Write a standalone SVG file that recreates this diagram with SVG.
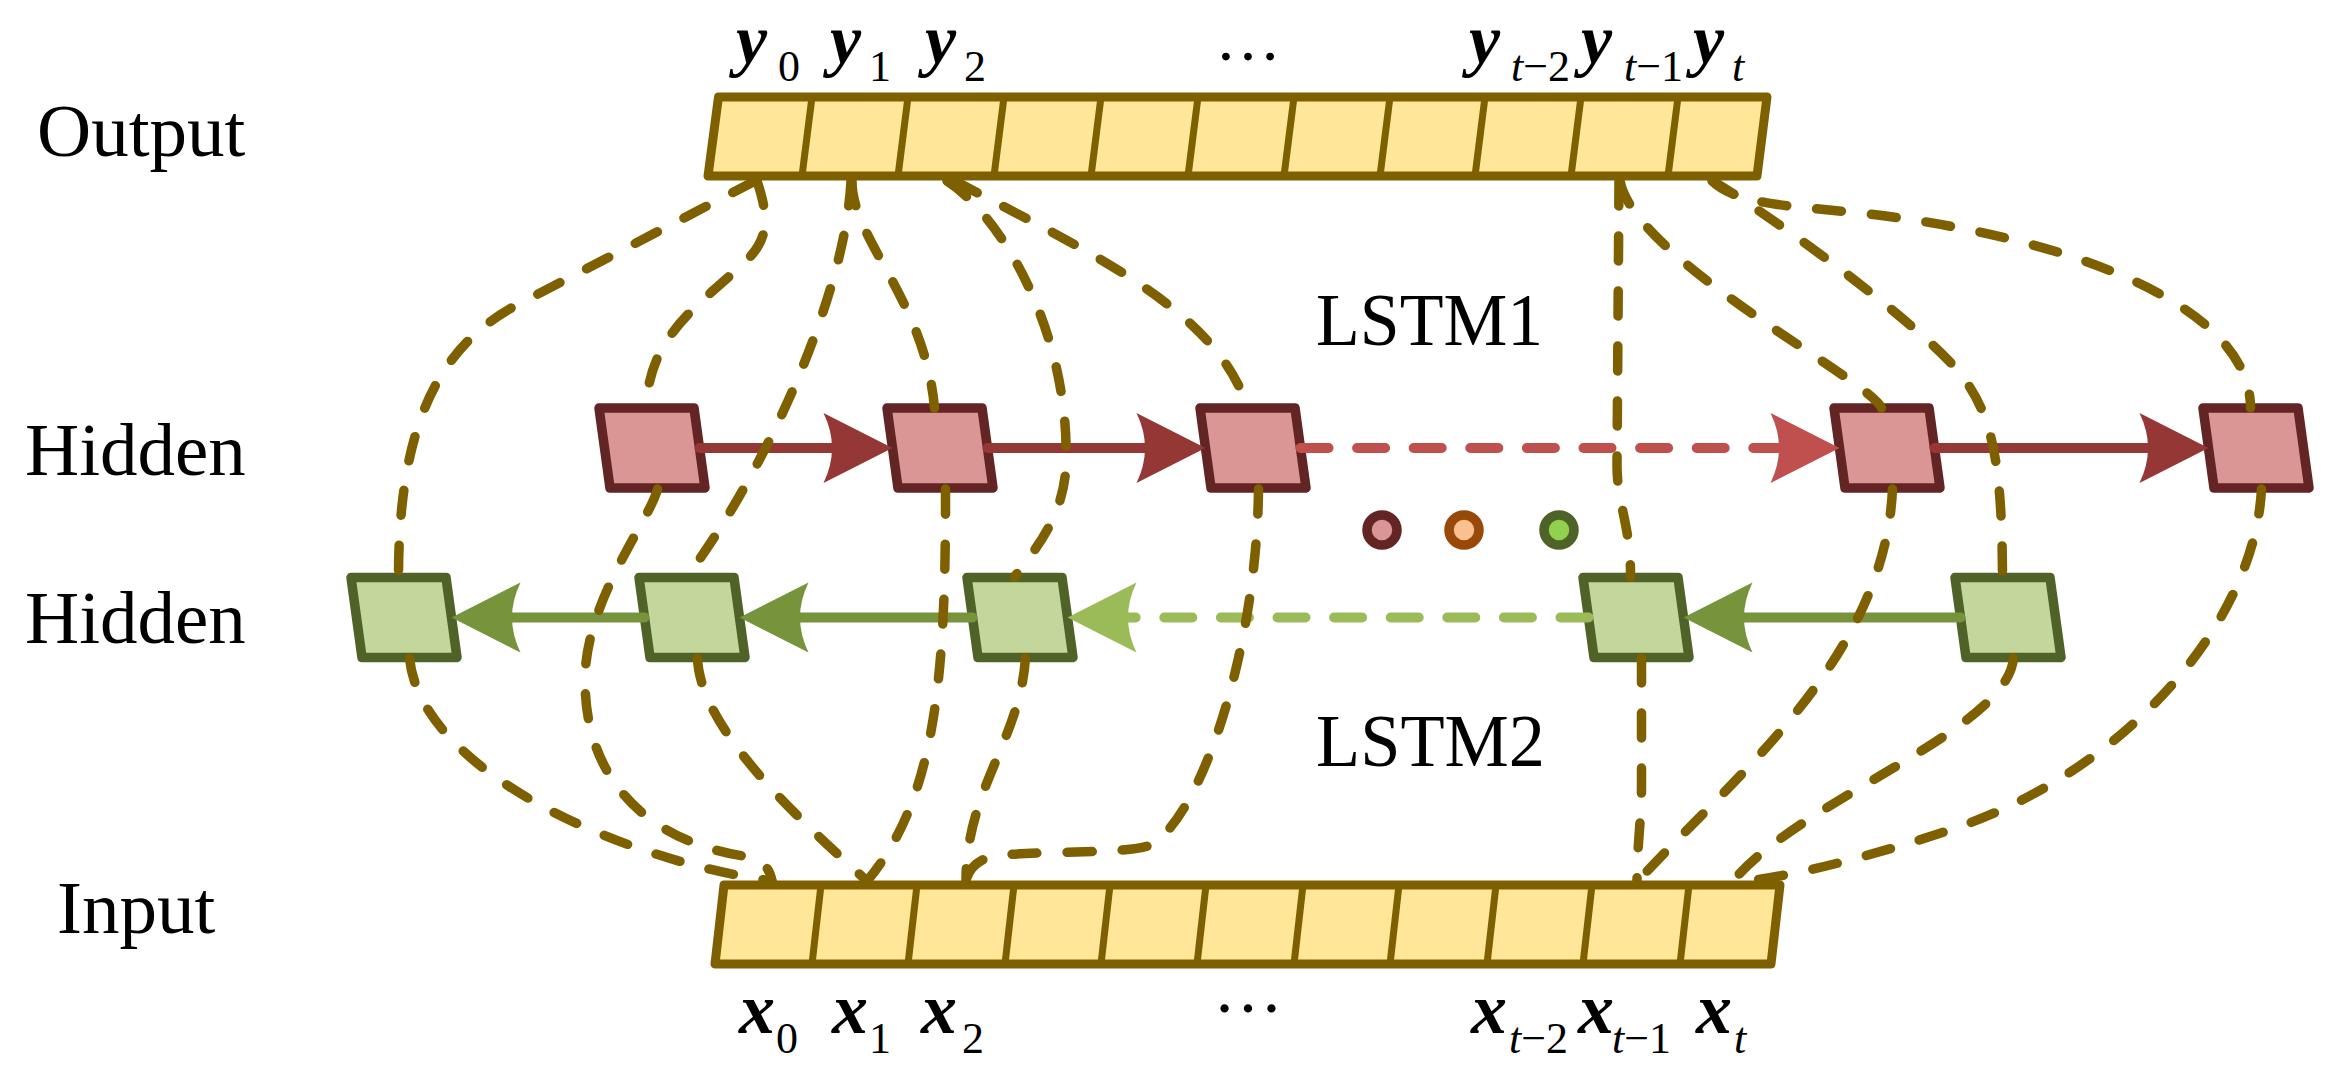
<svg xmlns="http://www.w3.org/2000/svg" width="2327" height="1074" viewBox="0 0 2327 1074">
<defs>
<style>
.bar{fill:#FFE699;stroke:#7F6000;stroke-width:9;stroke-linejoin:round}
.dv{stroke:#7F6000;stroke-width:7;fill:none}
.rn{fill:#D99694;stroke:#632523;stroke-width:9.5;stroke-linejoin:round}
.gn{fill:#C3D69B;stroke:#4F6228;stroke-width:9.5;stroke-linejoin:round}
.conn{fill:none;stroke:#7F6000;stroke-width:9.5;stroke-linecap:round;stroke-dasharray:25 30}
.ra{fill:none;stroke:#953735;stroke-width:10;stroke-linecap:round}
.rad{fill:none;stroke:#C0504D;stroke-width:10;stroke-linecap:round;stroke-dasharray:28 28.6}
.ga{fill:none;stroke:#77933C;stroke-width:10;stroke-linecap:round}
.gad{fill:none;stroke:#9BBB59;stroke-width:10;stroke-linecap:round;stroke-dasharray:28 28.6}
.lbl{font-family:"Liberation Serif","Times New Roman",serif;font-size:75px;fill:#000}
.math{font-family:"Liberation Serif","Times New Roman",serif;font-size:72px;font-weight:bold;font-style:italic;fill:#000}
.mathtop{font-family:"Liberation Serif","Times New Roman",serif;font-size:70px;font-weight:bold;font-style:italic;fill:#000}
.sub{font-size:44px;font-weight:normal;font-style:normal}
.subi{font-size:44px;font-weight:normal;font-style:italic}
.ell{font-family:"Liberation Serif","Times New Roman",serif;font-size:70px;fill:#000}
.ellt{font-family:"Liberation Serif","Times New Roman",serif;font-size:66px;fill:#000}
</style>
<marker id="ahR" markerUnits="userSpaceOnUse" markerWidth="80" markerHeight="80" viewBox="0 -40 80 80" refX="10" refY="0" orient="auto" overflow="visible"><path d="M69,0 L0,-35 Q17,0 0,35 Z" fill="#953735"/></marker>
<marker id="ahRL" markerUnits="userSpaceOnUse" markerWidth="80" markerHeight="80" viewBox="0 -40 80 80" refX="10" refY="0" orient="auto" overflow="visible"><path d="M69,0 L0,-35 Q17,0 0,35 Z" fill="#C0504D"/></marker>
<marker id="ahG" markerUnits="userSpaceOnUse" markerWidth="80" markerHeight="80" viewBox="0 -40 80 80" refX="10" refY="0" orient="auto" overflow="visible"><path d="M69,0 L0,-35 Q17,0 0,35 Z" fill="#77933C"/></marker>
<marker id="ahGL" markerUnits="userSpaceOnUse" markerWidth="80" markerHeight="80" viewBox="0 -40 80 80" refX="10" refY="0" orient="auto" overflow="visible"><path d="M69,0 L0,-35 Q17,0 0,35 Z" fill="#9BBB59"/></marker>
</defs>
<rect width="2327" height="1074" fill="#ffffff"/>

<g id="row-labels">
<text class="lbl" x="37" y="156">Output</text>
<text class="lbl" x="25" y="475">Hidden</text>
<text class="lbl" x="25" y="643">Hidden</text>
<text class="lbl" x="57" y="933">Input</text>
<text class="lbl" x="1316" y="345" textLength="227" lengthAdjust="spacingAndGlyphs">LSTM1</text>
<text class="lbl" x="1316" y="766" textLength="229" lengthAdjust="spacingAndGlyphs">LSTM2</text>
</g>

<g id="hidden-forward">
<g id="h1-1"><polygon class="rn" points="599,408 694,408 705,488 610,488"/></g>
<g id="h1-2"><polygon class="rn" points="887,408 982,408 993,488 898,488"/></g>
<g id="h1-3"><polygon class="rn" points="1200,408 1295,408 1306,488 1211,488"/></g>
<g id="h1-4"><polygon class="rn" points="1834,408 1929,408 1940,488 1845,488"/></g>
<g id="h1-5"><polygon class="rn" points="2203,408 2298,408 2309,488 2214,488"/></g>
</g>
<g id="hidden-backward">
<g id="h2-1"><polygon class="gn" points="351,577.5 446,577.5 457,657.5 362,657.5"/></g>
<g id="h2-2"><polygon class="gn" points="639,577.5 734,577.5 745,657.5 650,657.5"/></g>
<g id="h2-3"><polygon class="gn" points="967,577.5 1062,577.5 1073,657.5 978,657.5"/></g>
<g id="h2-4"><polygon class="gn" points="1583,577.5 1678,577.5 1689,657.5 1594,657.5"/></g>
<g id="h2-5"><polygon class="gn" points="1955,577.5 2050,577.5 2061,657.5 1966,657.5"/></g>
</g>

<g id="ellipsis-dots">
<circle cx="1382" cy="530" r="15" fill="#D99694" stroke="#632523" stroke-width="9.5"/>
<circle cx="1464" cy="530" r="15" fill="#FAC090" stroke="#984807" stroke-width="9.5"/>
<circle cx="1559" cy="530" r="15" fill="#92D050" stroke="#4F6228" stroke-width="9.5"/>
</g>

<g id="recurrent-connectors">
<path class="ra" d="M699.5,448 L833.5,448" marker-end="url(#ahR)"/>
<path class="ra" d="M987.5,448 L1146.5,448" marker-end="url(#ahR)"/>
<path class="rad" d="M1300.5,448 L1780.5,448" marker-end="url(#ahRL)"/>
<path class="ra" d="M1934.5,448 L2149.5,448" marker-end="url(#ahR)"/>
<path class="ga" d="M644.5,617.5 L510.5,617.5" marker-end="url(#ahG)"/>
<path class="ga" d="M972.5,617.5 L798.5,617.5" marker-end="url(#ahG)"/>
<path class="gad" d="M1588.5,617.5 L1126.5,617.5" marker-end="url(#ahGL)"/>
<path class="ga" d="M1960.5,617.5 L1742.5,617.5" marker-end="url(#ahG)"/>
</g>

<g id="connectors">
<path class="conn" d="M755,181 C674,223 594,265 513,307 C440,348 398.5,423 398.5,577"/>
<path class="conn" d="M757,181 C770,220 768,240 745,262 C702,303 648,335 646.5,408"/>
<path class="conn" d="M851,181 C845,300 760,480 686.5,577"/>
<path class="conn" d="M852,181 C852,240 925,300 934.5,408"/>
<path class="conn" d="M947,181 C1000,215 1070,330 1066,465 C1064,520 1030,555 1014.5,577"/>
<path class="conn" d="M955,181 C1087,251 1217.5,310 1247.5,408"/>
<path class="conn" d="M1619,181 L1617,465 C1617,505 1631,525 1630.5,577"/>
<path class="conn" d="M1620,181 C1635,260 1870,380 1881.5,408"/>
<path class="conn" d="M1713,181 C1780,222 1900,310 1950,362 C1990,405 2002,450 2002.5,577"/>
<path class="conn" d="M1712,181 C1735,204 1790,206 1850,212 C2050,232 2250.5,300 2250.5,408"/>
<path class="conn" d="M409.5,658 C420,770 620,860 772,881"/>
<path class="conn" d="M657.5,489 C650,520 585,600 585,680 C585,790 660,845 750,857 C765,862 770,870 772,881"/>
<path class="conn" d="M697.5,658 C700,730 800,820 867,881"/>
<path class="conn" d="M945.5,489 C946,680 935,800 867,881"/>
<path class="conn" d="M1025.5,658 C1020,740 966,790 966,881"/>
<path class="conn" d="M1258.5,489 C1257,650 1200,820 1150,845 C1130,855 1020,850 990,857 C978,860 968,870 966,881"/>
<path class="conn" d="M1641.5,658 L1641.5,785 C1641.5,820 1637,845 1637,881"/>
<path class="conn" d="M1892.5,489 C1885,660 1730,780 1638,881"/>
<path class="conn" d="M2013.5,658 C2008,730 1800,800 1733,881"/>
<path class="conn" d="M2261.5,489 C2255,620 2130,770 1950,830 C1890,850 1800,876 1744,881"/>
</g>

<g id="output-bar">
<polygon class="bar" points="718.5,97 1767,97 1757,176 708,176"/>
<path class="dv" d="M812,97 L802,176 M908,97 L898,176 M1004,97 L994,176 M1101,97 L1091,176 M1198,97 L1188,176 M1294,97 L1284,176 M1390,97 L1380,176 M1485,97 L1475,176 M1581,97 L1571,176 M1678,97 L1668,176"/>
</g>
<g id="input-bar">
<polygon class="bar" points="724,885 1780,885 1771,964 715,964"/>
<path class="dv" d="M821,885 L812,964 M917,885 L908,964 M1014,885 L1005,964 M1110,885 L1101,964 M1206,885 L1197,964 M1303,885 L1294,964 M1399,885 L1390,964 M1496,885 L1487,964 M1592,885 L1583,964 M1689,885 L1680,964"/>
</g>

<g id="output-labels">
<text class="mathtop" y="63"><tspan x="736">y</tspan><tspan class="sub" x="778" y="81">0</tspan></text>
<text class="mathtop" y="63"><tspan x="830">y</tspan><tspan class="sub" x="869" y="81">1</tspan></text>
<text class="mathtop" y="63"><tspan x="925">y</tspan><tspan class="sub" x="964" y="81">2</tspan></text>
<text class="ellt" x="1215" y="60">…</text>
<text class="mathtop" y="63"><tspan x="1469">y</tspan><tspan class="subi" x="1511" y="81">t</tspan><tspan class="sub">−2</tspan></text>
<text class="mathtop" y="63"><tspan x="1581">y</tspan><tspan class="subi" x="1624" y="81">t</tspan><tspan class="sub">−1</tspan></text>
<text class="mathtop" y="63"><tspan x="1693">y</tspan><tspan class="subi" x="1732" y="81">t</tspan></text>
</g>
<g id="input-labels">
<text class="math" y="1033"><tspan x="739">x</tspan><tspan class="sub" x="776" y="1053">0</tspan></text>
<text class="math" y="1033"><tspan x="832">x</tspan><tspan class="sub" x="869" y="1053">1</tspan></text>
<text class="math" y="1033"><tspan x="921">x</tspan><tspan class="sub" x="962" y="1053">2</tspan></text>
<text class="ell" x="1213" y="1012">…</text>
<text class="math" y="1033"><tspan x="1471">x</tspan><tspan class="subi" x="1509" y="1053">t</tspan><tspan class="sub">−2</tspan></text>
<text class="math" y="1033"><tspan x="1578">x</tspan><tspan class="subi" x="1612" y="1053">t</tspan><tspan class="sub">−1</tspan></text>
<text class="math" y="1033"><tspan x="1696">x</tspan><tspan class="subi" x="1734" y="1053">t</tspan></text>
</g>
</svg>
